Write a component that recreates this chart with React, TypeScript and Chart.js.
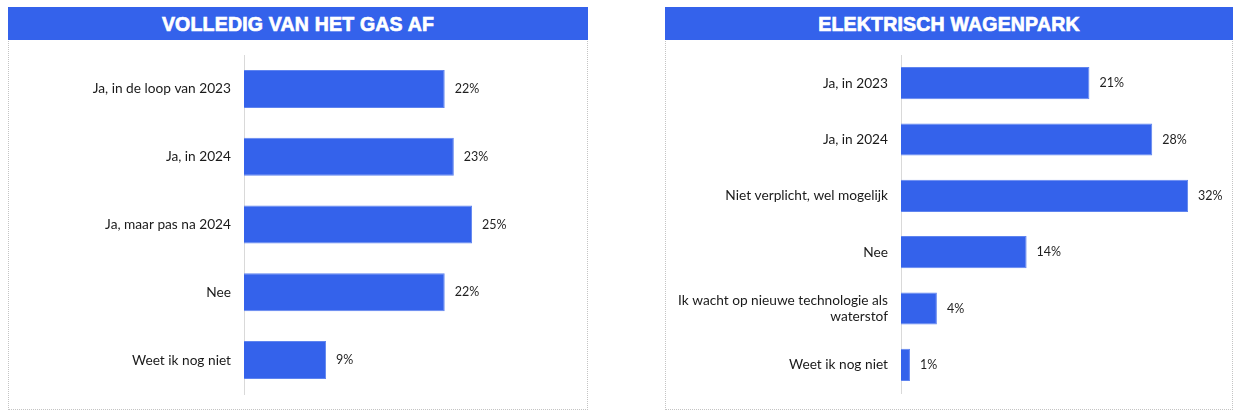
import React, { useEffect, useRef } from "react";
import { Chart, registerables } from "chart.js";

Chart.register(...registerables);

const gasTitle = "VOLLEDIG VAN HET GAS AF";
const gasCategories = [
  "Ja, in de loop van 2023",
  "Ja, in 2024",
  "Ja, maar pas na 2024",
  "Nee",
  "Weet ik nog niet",
];
const gasValues = [22, 23, 25, 22, 9];

const fleetTitle = "ELEKTRISCH WAGENPARK";
const fleetCategories: (string | string[])[] = [
  "Ja, in 2023",
  "Ja, in 2024",
  "Niet verplicht, wel mogelijk",
  "Nee",
  ["Ik wacht op nieuwe technologie als", "waterstof"],
  "Weet ik nog niet",
];
const fleetValues = [21, 28, 32, 14, 4, 1];

const BAR_COLOR = "#3462eb";
const FONT = "Lato, 'Open Sans', sans-serif";

const valueLabels = {
  id: "valueLabels",
  afterDatasetsDraw(chart: any) {
    const ctx = chart.ctx;
    const meta = chart.getDatasetMeta(0);
    const data = chart.data.datasets[0].data as number[];
    ctx.save();
    ctx.font = `12.5px ${FONT}`;
    ctx.fillStyle = "#1f1f1f";
    ctx.textAlign = "left";
    ctx.textBaseline = "middle";
    meta.data.forEach((bar: any, i: number) => {
      ctx.fillText(`${data[i]}%`, bar.x + 10, bar.y);
    });
    ctx.restore();
  },
};

type PanelProps = {
  title: string;
  categories: (string | string[])[];
  values: number[];
  left: number;
  width: number;
  axisX: number;
  xMax: number;
  padRight: number;
  padTop: number;
  padBottom: number;
  barPct: number;
};

function Panel({ title, categories, values, left, width, axisX, xMax, padRight, padTop, padBottom, barPct }: PanelProps) {
  const ref = useRef<HTMLCanvasElement | null>(null);
  useEffect(() => {
    if (!ref.current) return;
    const chart = new Chart(ref.current, {
      type: "bar",
      data: {
        labels: categories as any,
        datasets: [
          {
            data: values,
            backgroundColor: BAR_COLOR,
            borderColor: "#5f84ef",
            borderWidth: 1,
            categoryPercentage: barPct,
            barPercentage: 1,
          },
        ],
      },
      options: {
        indexAxis: "y",
        animation: false,
        responsive: false,
        maintainAspectRatio: false,
        events: [],
        layout: { padding: { top: padTop, bottom: padBottom, right: padRight, left: 0 } },
        plugins: { legend: { display: false }, tooltip: { enabled: false } },
        scales: {
          x: { display: false, min: 0, max: xMax },
          y: {
            afterFit: (scale: any) => {
              scale.width = axisX;
              scale.paddingTop = 0;
              scale.paddingBottom = 0;
            },
            grid: { display: false, drawTicks: false },
            border: { display: true, color: "#d9d9d9", width: 1 },
            ticks: {
              color: "#1a1a1a",
              padding: 13,
              font: { family: FONT, size: 13.7 },
            },
          },
        },
      },
      plugins: [valueLabels],
    });
    return () => chart.destroy();
  }, []);

  return (
    <div
      style={{
        position: "absolute",
        left,
        top: 7,
        width,
        height: 403,
        boxSizing: "border-box",
        border: "1px dotted #c4c4c4",
        borderTop: "none",
      }}
    >
      <div
        style={{
          position: "absolute",
          left: -1,
          top: 0,
          width: width,
          height: 33,
          background: BAR_COLOR,
          color: "#ffffff",
          fontFamily: "'Liberation Sans', Arial, sans-serif",
          fontWeight: 900,
          fontSize: 19.5,
          lineHeight: "34px",
          textAlign: "center",
          letterSpacing: 0.2,
          WebkitTextStroke: "0.7px #ffffff",
        }}
      >
        {title}
      </div>
      <canvas
        ref={ref}
        width={width - 2}
        height={368}
        style={{ position: "absolute", left: 0, top: 33, width: width - 2, height: 368 }}
      />
    </div>
  );
}

export default function App() {
  return (
    <div style={{ position: "absolute", left: 0, top: 0, width: 1240, height: 416, background: "#fff" }}>
      <Panel
        title={gasTitle}
        categories={gasCategories}
        values={gasValues}
        left={8}
        width={580}
        axisX={235}
        xMax={36.5}
        padRight={10}
        padTop={15}
        padBottom={14}
        barPct={0.56}
      />
      <Panel
        title={fleetTitle}
        categories={fleetCategories}
        values={fleetValues}
        left={665}
        width={568}
        axisX={235}
        xMax={36}
        padRight={8}
        padTop={15}
        padBottom={15}
        barPct={0.57}
      />
    </div>
  );
}
